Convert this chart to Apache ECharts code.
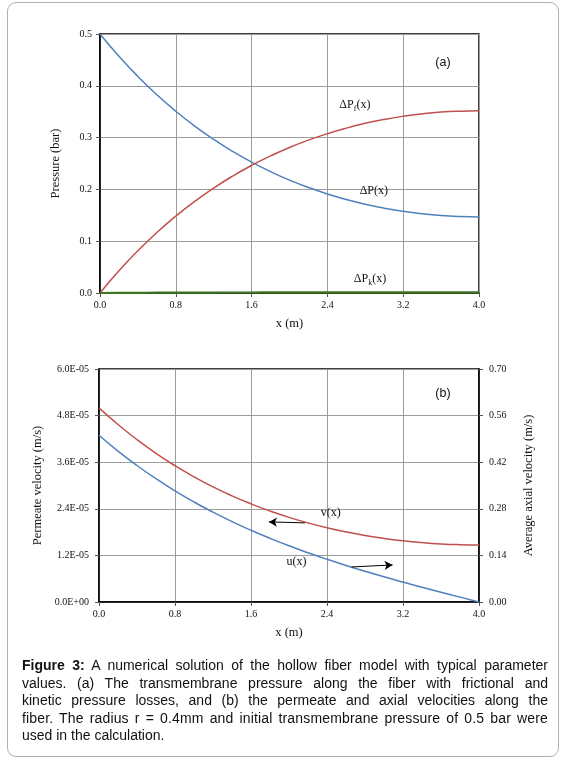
<!DOCTYPE html>
<html>
<head>
<meta charset="utf-8">
<script src="https://cdn.jsdelivr.net/npm/echarts@6/dist/echarts.min.js"></script>
<style>
  html, body { margin: 0; padding: 0; background: #fff; }
  #wrap { position: relative; width: 567px; height: 763px; overflow: hidden; }
  #frame { position: absolute; left: 7px; top: 2px; width: 552px; height: 755px;
           border: 1.5px solid #b0b0b0; border-radius: 9px; box-sizing: border-box; }
  #chart { position: absolute; left: 0; top: 0; width: 567px; height: 763px; }
  #caption { position: absolute; left: 22px; top: 657px; width: 526px;
             font-family: "Liberation Sans", Arial, sans-serif; font-size: 14px;
             line-height: 17.5px; color: #111; }
  #caption .j { text-align: justify; text-align-last: justify; white-space: nowrap; }
</style>
</head>
<body>
<div id="wrap">
  <div id="frame"></div>
  <div id="chart"></div>
  <div id="caption">
    <div class="j"><b>Figure 3:</b> A numerical solution of the hollow fiber model with typical parameter</div>
    <div class="j">values. (a) The transmembrane pressure along the fiber with frictional and</div>
    <div class="j">kinetic pressure losses, and (b) the permeate and axial velocities along the</div>
    <div class="j" style="letter-spacing:0.15px">fiber. The radius r = 0.4mm and initial transmembrane pressure of 0.5 bar were</div>
    <div>used in the calculation.</div>
  </div>
</div>
<script>
// x positions along the fiber (m)
const xPos = [0, 0.2, 0.4, 0.6, 0.8, 1.0, 1.2, 1.4, 1.6, 1.8, 2.0, 2.2, 2.4, 2.6, 2.8, 3.0, 3.2, 3.4, 3.6, 3.8, 4.0];
// (a) pressures (bar)
const dP  = [0.5000, 0.4570, 0.4180, 0.3827, 0.3509, 0.3222, 0.2964, 0.2733, 0.2527, 0.2343, 0.2179, 0.2037, 0.1912, 0.1805, 0.1713, 0.1637, 0.1576, 0.1529, 0.1495, 0.1476, 0.1469];
const dPf = [0.0000, 0.0428, 0.0816, 0.1167, 0.1484, 0.1770, 0.2027, 0.2257, 0.2463, 0.2646, 0.2810, 0.2952, 0.3076, 0.3183, 0.3275, 0.3351, 0.3412, 0.3459, 0.3493, 0.3511, 0.3518];
const dPk = [0.0000, 0.0002, 0.0004, 0.0006, 0.0007, 0.0008, 0.0009, 0.0010, 0.0010, 0.0011, 0.0011, 0.0011, 0.0012, 0.0012, 0.0012, 0.0012, 0.0012, 0.0012, 0.0012, 0.0013, 0.0013];
// (b) permeate velocity v(x) (m/s) and average axial velocity u(x) (m/s)
const vPerm = [5.000e-5, 4.570e-5, 4.180e-5, 3.827e-5, 3.509e-5, 3.222e-5, 2.964e-5, 2.733e-5, 2.527e-5, 2.343e-5, 2.179e-5, 2.037e-5, 1.912e-5, 1.805e-5, 1.713e-5, 1.637e-5, 1.576e-5, 1.529e-5, 1.495e-5, 1.476e-5, 1.469e-5];
const uAxial = [0.5010, 0.4535, 0.4101, 0.3703, 0.3339, 0.3005, 0.2698, 0.2415, 0.2154, 0.1913, 0.1688, 0.1479, 0.1283, 0.1098, 0.0924, 0.0757, 0.0598, 0.0444, 0.0294, 0.0146, 0.0000];
// axis tick settings
const xTicks = {min: 0, max: 4, interval: 0.8};
const pTicks = {min: 0, max: 0.5, interval: 0.1};
const vTicks = {min: 0, max: 6.0e-5, interval: 1.2e-5};
const uTicks = {min: 0, max: 0.70, interval: 0.14};

const pairs = (ys) => xPos.map((x, i) => [x, ys[i]]);
const serif = '"Liberation Serif", "Times New Roman", serif';
const sans = '"Liberation Sans", Arial, sans-serif';
const gridLine = {show: true, lineStyle: {color: '#9c9c9c', width: 1}};
const axLine = {show: true, onZero: false, lineStyle: {color: '#000', width: 1.5}};
const tick = {show: true, inside: false, length: 4, lineStyle: {color: '#555', width: 1}};
const tickLbl = (fmt, margin) => ({show: true, fontFamily: serif, fontSize: 10, color: '#111', margin: margin, formatter: fmt});
const eFmt = (v) => {
  const s = Number(v).toExponential(1).toUpperCase();
  const m = s.match(/^(-?[\d.]+)E([+-])(\d+)$/);
  return m[1] + 'E' + m[2] + (m[3].length < 2 ? '0' + m[3] : m[3]);
};
const nameStyle = {fontFamily: serif, fontSize: 12.5, color: '#111'};
const labelRich = {
  a: {fontFamily: serif, fontSize: 12, color: '#111', lineHeight: 14, verticalAlign: 'top'},
  s: {fontFamily: serif, fontSize: 8, color: '#111', lineHeight: 6, verticalAlign: 'bottom'}
};
const textMark = (x, y, fmt, extra) => ({
  coord: [x, y], symbol: 'circle', symbolSize: 0,
  label: Object.assign({show: true, position: 'inside', formatter: fmt, rich: labelRich, color: '#111'}, extra || {})
});
const sansMark = {fontFamily: sans, fontSize: 12.5, color: '#111'};
const lineOpts = {showSymbol: false, smooth: 0.5};

const chart = echarts.init(document.getElementById('chart'), null, {renderer: 'canvas'});
chart.setOption({
  animation: false,
  backgroundColor: 'transparent',
  grid: [
    {left: 100, top: 34, width: 379, height: 259, show: true, borderColor: '#000', borderWidth: 1.5, backgroundColor: 'transparent', outerBoundsMode: 'none', containLabel: false},
    {left: 99, top: 369, width: 380, height: 233, show: true, borderColor: '#000', borderWidth: 1.5, backgroundColor: 'transparent', outerBoundsMode: 'none', containLabel: false}
  ],
  xAxis: [
    Object.assign({type: 'value', gridIndex: 0, name: 'x (m)', nameLocation: 'middle', nameGap: 24, nameTextStyle: nameStyle,
      axisLine: axLine, axisTick: tick, splitLine: gridLine, axisLabel: tickLbl((v) => v.toFixed(1), 7)}, xTicks),
    Object.assign({type: 'value', gridIndex: 1, name: 'x (m)', nameLocation: 'middle', nameGap: 24, nameTextStyle: nameStyle,
      axisLine: axLine, axisTick: tick, splitLine: gridLine, axisLabel: tickLbl((v) => v.toFixed(1), 7)}, xTicks)
  ],
  yAxis: [
    Object.assign({type: 'value', gridIndex: 0, name: 'Pressure (bar)', nameLocation: 'middle', nameGap: 38, nameTextStyle: nameStyle,
      axisLine: axLine, axisTick: tick, splitLine: gridLine, axisLabel: tickLbl((v) => v.toFixed(1), 8)}, pTicks),
    Object.assign({type: 'value', gridIndex: 1, position: 'left', name: 'Permeate velocity (m/s)', nameLocation: 'middle', nameGap: 55, nameTextStyle: nameStyle,
      axisLine: axLine, axisTick: tick, splitLine: gridLine, axisLabel: tickLbl(eFmt, 10)}, vTicks),
    Object.assign({type: 'value', gridIndex: 1, position: 'right', name: 'Average axial velocity (m/s)', nameLocation: 'middle', nameGap: 43, nameTextStyle: nameStyle,
      axisLine: axLine, axisTick: tick, splitLine: {show: false}, axisLabel: tickLbl((v) => v.toFixed(2), 10)}, uTicks)
  ],
  series: [
    Object.assign({type: 'line', name: 'ΔP(x)', xAxisIndex: 0, yAxisIndex: 0, data: pairs(dP),
      lineStyle: {color: '#4f81bd', width: 1.5}, itemStyle: {color: '#4f81bd'},
      markPoint: {silent: true, data: [
        textMark(2.89, 0.195, '{a|ΔP(x)}'),
        textMark(3.62, 0.444, '(a)', sansMark)
      ]}}, lineOpts),
    Object.assign({type: 'line', name: 'ΔPf(x)', xAxisIndex: 0, yAxisIndex: 0, data: pairs(dPf),
      lineStyle: {color: '#c0504d', width: 1.5}, itemStyle: {color: '#c0504d'},
      markPoint: {silent: true, data: [textMark(2.69, 0.361, '{a|ΔP}{s|f}{a|(x)}')]}}, lineOpts),
    Object.assign({type: 'line', name: 'ΔPk(x)', xAxisIndex: 0, yAxisIndex: 0, data: pairs(dPk),
      lineStyle: {color: '#3f7420', width: 2.2}, itemStyle: {color: '#3f7420'},
      markPoint: {silent: true, data: [textMark(2.85, 0.0245, '{a|ΔP}{s|k}{a|(x)}')]}}, lineOpts),
    Object.assign({type: 'line', name: 'v(x)', xAxisIndex: 1, yAxisIndex: 1, data: pairs(vPerm),
      lineStyle: {color: '#c0504d', width: 1.5}, itemStyle: {color: '#c0504d'},
      markPoint: {silent: true, data: [
        textMark(2.44, 2.26e-5, '{a|v(x)}'),
        textMark(3.62, 5.36e-5, '(b)', sansMark)
      ]},
      markLine: {silent: true, symbol: ['none', 'arrow'], symbolSize: [7, 8], label: {show: false},
        lineStyle: {color: '#000', width: 1, type: 'solid'},
        data: [[{coord: [2.168, 2.037e-5]}, {coord: [1.789, 2.063e-5]}]]}}, lineOpts),
    Object.assign({type: 'line', name: 'u(x)', xAxisIndex: 1, yAxisIndex: 2, data: pairs(uAxial),
      lineStyle: {color: '#4f81bd', width: 1.5}, itemStyle: {color: '#4f81bd'},
      markPoint: {silent: true, data: [textMark(2.08, 0.1164, '{a|u(x)}')]},
      markLine: {silent: true, symbol: ['none', 'arrow'], symbolSize: [7, 8], label: {show: false},
        lineStyle: {color: '#000', width: 1, type: 'solid'},
        data: [[{coord: [2.66, 0.1053]}, {coord: [3.09, 0.1113]}]]}}, lineOpts)
  ]
});
</script>
</body>
</html>
